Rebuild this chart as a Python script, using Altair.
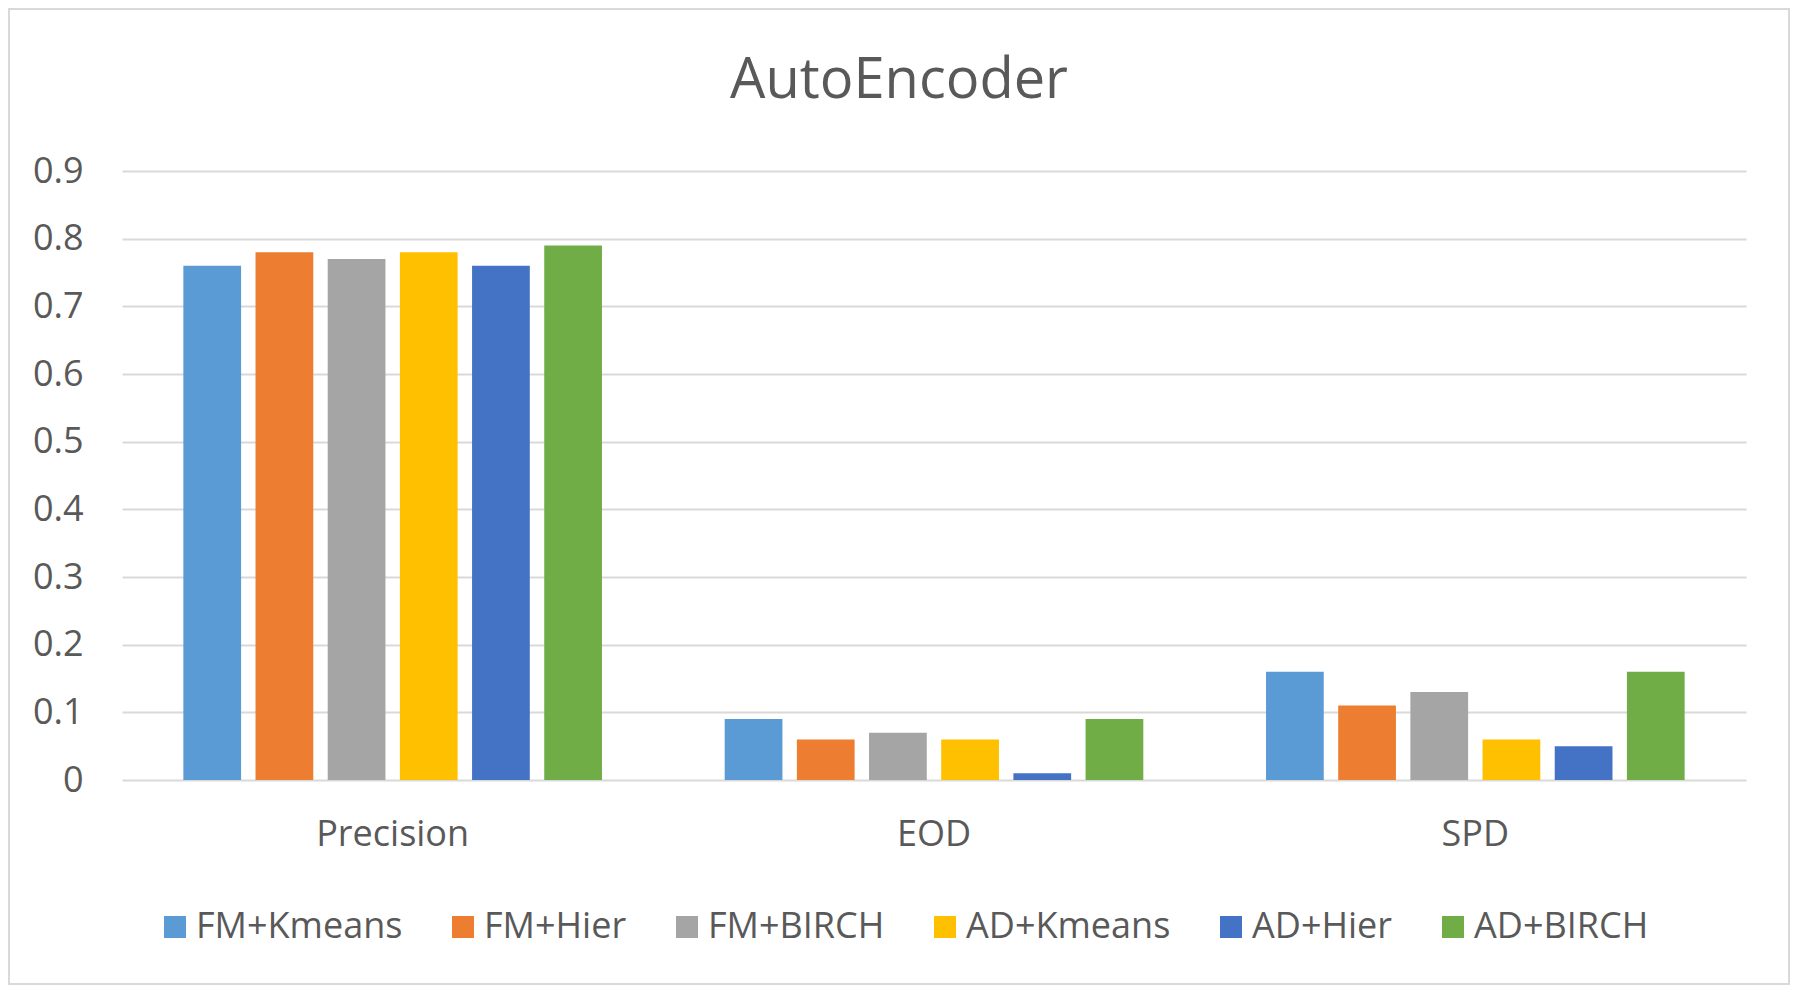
import altair as alt
import pandas as pd

metrics = ["Precision", "EOD", "SPD"]
methods = ["FM+Kmeans", "FM+Hier", "FM+BIRCH", "AD+Kmeans", "AD+Hier", "AD+BIRCH"]
colors = ["#5B9BD5", "#ED7D31", "#A5A5A5", "#FFC000", "#4472C4", "#70AD47"]
precision = [0.76, 0.78, 0.77, 0.78, 0.76, 0.79]
eod = [0.09, 0.06, 0.07, 0.06, 0.01, 0.09]
spd = [0.16, 0.11, 0.13, 0.06, 0.05, 0.16]
y_ticks = [0, 0.1, 0.2, 0.3, 0.4, 0.5, 0.6, 0.7, 0.8, 0.9]
title_text = "AutoEncoder"

rows = []
for metric, vals in zip(metrics, [precision, eod, spd]):
    for m, v in zip(methods, vals):
        rows.append({"metric": metric, "method": m, "value": v})
df = pd.DataFrame(rows)

FONT = "Open Sans"
TXT = "#595959"
W, H = 1624, 609
PL, PT = 114, 163
PR = 1782 - PL - W
PB = 977 - PT - H

bars = alt.Chart(df).mark_bar().encode(
    x=alt.X(
        "metric:N", sort=metrics,
        scale=alt.Scale(paddingInner=0.2, paddingOuter=0.1),
        axis=alt.Axis(title=None, labelAngle=0, domain=False, ticks=False, tickSize=0,
                      labelPadding=54, labelBaseline="middle", labelFontSize=36,
                      labelColor=TXT, labelFont=FONT, grid=False),
    ),
    xOffset=alt.XOffset("method:N", sort=methods,
                        scale=alt.Scale(paddingInner=0.2, paddingOuter=0.1)),
    y=alt.Y(
        "value:Q",
        scale=alt.Scale(domain=[0, 0.9], nice=False, zero=True),
        axis=alt.Axis(title=None, values=y_ticks, grid=True, gridColor="#D9D9D9",
                      gridWidth=2, domain=False, ticks=False, tickSize=0,
                      labelPadding=39, labelFontSize=36, labelColor=TXT, labelFont=FONT,
                      labelExpr="datum.value == 0 ? '0' : format(datum.value, '.1f')"),
    ),
    color=alt.Color(
        "method:N", sort=methods,
        scale=alt.Scale(domain=methods, range=colors),
        legend=alt.Legend(title=None, orient="none", legendX=35, legendY=738,
                          direction="horizontal", columns=6, symbolType="square",
                          symbolSize=484, symbolStrokeWidth=0, symbolOpacity=1,
                          labelFontSize=36, labelFont=FONT, labelColor=TXT,
                          labelLimit=0, labelOffset=3, columnPadding=42, padding=0),
    ),
)

border = alt.Chart(pd.DataFrame({"a": [0]})).mark_rect(
    fillOpacity=0, stroke="#D9D9D9", strokeWidth=2
).encode(
    x=alt.value(-PL + 1), x2=alt.value(W + PR - 1),
    y=alt.value(-PT + 1), y2=alt.value(H + PB - 1),
)

title = alt.Chart(pd.DataFrame({"t": [title_text]})).mark_text(
    fontSize=56, font=FONT, color=TXT, align="center", baseline="middle"
).encode(
    text="t:N", x=alt.value(777), y=alt.value(-90),
)

chart = alt.layer(border, bars, title).properties(
    width=W, height=H,
    padding={"left": PL, "top": PT, "right": PR, "bottom": PB},
    autosize="none",
    background="white",
).configure(font=FONT).configure_view(stroke=None, strokeWidth=0)

chart.save("out.html", embed_options={"renderer": "svg", "actions": False})
